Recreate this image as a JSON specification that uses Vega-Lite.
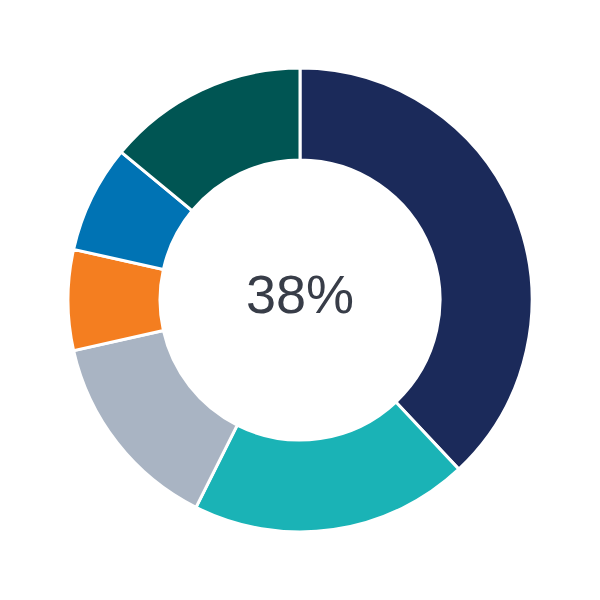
{
  "$schema": "https://vega.github.io/schema/vega-lite/v6.json",
  "background": "white",
  "width": 600,
  "height": 600,
  "autosize": {"type": "fit", "contains": "padding"},
  "padding": 0,
  "view": {"stroke": null},
  "data": {
    "values": [
      {"segment": "A", "order": 1, "share": 38},
      {"segment": "B", "order": 2, "share": 19.4},
      {"segment": "C", "order": 3, "share": 14.1},
      {"segment": "D", "order": 4, "share": 7},
      {"segment": "E", "order": 5, "share": 7.5},
      {"segment": "F", "order": 6, "share": 14}
    ]
  },
  "layer": [
    {
      "mark": {"type": "arc", "outerRadius": 232, "innerRadius": 140, "stroke": "white", "strokeWidth": 3},
      "encoding": {
        "theta": {"field": "share", "type": "quantitative", "stack": true},
        "order": {"field": "order", "type": "quantitative"},
        "color": {
          "field": "segment",
          "type": "nominal",
          "legend": null,
          "scale": {
            "domain": ["A", "B", "C", "D", "E", "F"],
            "range": ["#1b2a5a", "#1ab3b6", "#a9b4c3", "#f47e20", "#0073b4", "#005553"]
          }
        }
      }
    },
    {
      "data": {"values": [{"label": "38%"}]},
      "mark": {"type": "text", "font": "Liberation Sans", "fontSize": 54, "color": "#383d48", "baseline": "middle", "align": "center", "dy": -3},
      "encoding": {
        "text": {"field": "label", "type": "nominal"}
      }
    }
  ]
}
